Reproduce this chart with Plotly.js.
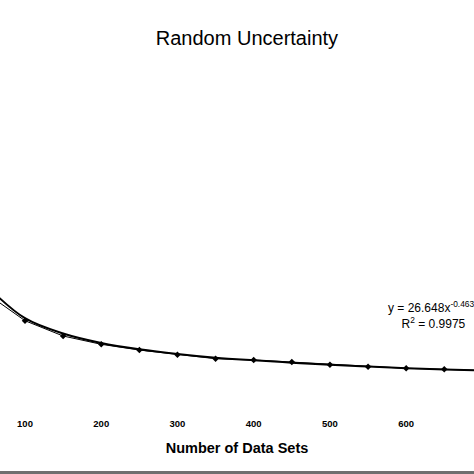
<!DOCTYPE html>
<html>
<head>
<meta charset="utf-8">
<script src="https://cdn.plot.ly/plotly-3.0.1.min.js"></script>
<style>
  html, body { margin: 0; padding: 0; background: #6f6f6f; }
  #chart { width: 474px; height: 471px; background: #fff; }
</style>
</head>
<body>
<div id="chart"></div>
<script>
// number of data sets vs. random uncertainty
const dataSets = [50, 100, 150, 200, 250, 300, 350, 400, 450, 500, 550, 600, 650, 700];
const uncertainty = [4.23, 3.205, 2.624, 2.308, 2.091, 1.913, 1.76, 1.711, 1.635, 1.532, 1.456, 1.395, 1.357, 1.31];

// power trendline as drawn (thick curve)
const trendX = [50, 100, 150, 200, 250, 300, 350, 400, 450, 500, 550, 600, 650, 700];
const trendY = [4.52, 3.3, 2.72, 2.36, 2.12, 1.94, 1.8, 1.7, 1.61, 1.53, 1.46, 1.4, 1.35, 1.31];

const xTicks = [100, 200, 300, 400, 500, 600];
const fitLabel = 'y = 26.648x<sup>-0.4636</sup><br>R<sup>2</sup> = 0.9975';

const target = document.getElementById('chart');

const dataTrace = {
  x: dataSets,
  y: uncertainty,
  type: 'scatter',
  mode: 'lines+markers',
  line: { color: '#000', width: 1 },
  marker: { symbol: 'diamond', size: 5, color: '#000' },
  hoverinfo: 'skip'
};

const trendTrace = {
  x: trendX,
  y: trendY,
  type: 'scatter',
  mode: 'lines',
  line: { color: '#000', width: 2, shape: 'spline' },
  hoverinfo: 'skip'
};

const layout = {
  width: 474,
  height: 471,
  paper_bgcolor: '#fff',
  plot_bgcolor: '#fff',
  font: { family: 'Liberation Sans, Arial, sans-serif', color: '#000' },
  margin: { l: 0, r: 0, t: 0, b: 66 },
  showlegend: false,
  title: {
    text: 'Random Uncertainty',
    font: { size: 20, color: '#000' },
    xref: 'container',
    yref: 'container',
    x: 0.521,
    y: 1 - 38 / 471,
    xanchor: 'center',
    yanchor: 'middle'
  },
  xaxis: {
    range: [67.2, 689],
    tickvals: xTicks,
    ticktext: xTicks.map(String),
    ticks: '',
    ticklabelstandoff: 11,
    tickfont: { size: 9.5, family: 'Liberation Sans, Arial, sans-serif', weight: 'bold' },
    showgrid: false,
    zeroline: false,
    showline: false,
    title: {
      text: '<b>Number of Data Sets</b>',
      font: { size: 14.5 },
      standoff: 15
    }
  },
  yaxis: {
    range: [0, 15.4],
    visible: false,
    showgrid: false,
    zeroline: false
  },
  annotations: [{
    xref: 'paper',
    yref: 'paper',
    x: 433 / 474,
    y: 1 - 314.5 / 405,
    xanchor: 'center',
    yanchor: 'middle',
    align: 'center',
    showarrow: false,
    text: fitLabel,
    font: { size: 12, color: '#000' }
  }]
};

Plotly.newPlot(target, [trendTrace, dataTrace], layout, {
  displayModeBar: false,
  staticPlot: true
});
</script>
</body>
</html>
